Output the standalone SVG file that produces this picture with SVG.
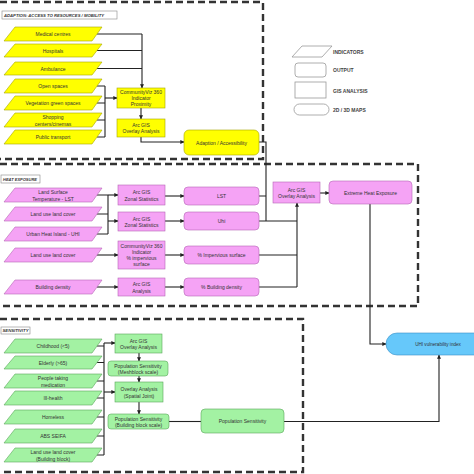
<svg xmlns="http://www.w3.org/2000/svg" width="474" height="474" viewBox="0 0 474 474">
<defs>
<marker id="ah" viewBox="0 0 6 6" refX="5.5" refY="3" markerWidth="4" markerHeight="4" orient="auto" markerUnits="userSpaceOnUse">
<path d="M0,0 L6,3 L0,6 z" fill="#222"/>
</marker>
<style>
text{font-family:"Liberation Sans",Arial,sans-serif;font-size:5px;fill:#333;text-anchor:middle;dominant-baseline:central}
.hd{font-style:italic;font-weight:bold;font-size:4.2px;text-anchor:start}
.lg{font-weight:bold;font-size:5px;text-anchor:start;fill:#444}
.y{fill:#ffff00;stroke:#a6a600;stroke-width:0.6}
.p{fill:#f5a3f5;stroke:#b566b5;stroke-width:0.6}
.g{fill:#a3f2a3;stroke:#5aa65a;stroke-width:0.6}
.b{fill:#66c8fa;stroke:#3a8ec6;stroke-width:0.6}
.lgs{fill:#fff;stroke:#999;stroke-width:0.8}
.hb{fill:#fff;stroke:#888;stroke-width:0.6}
.dash{fill:none;stroke:#333;stroke-width:2.4;stroke-dasharray:7,4}
.c{fill:none;stroke:#222;stroke-width:1.1}
.ca{fill:none;stroke:#222;stroke-width:1.1;marker-end:url(#ah)}
</style>
</defs>

<g id="borders">
<path class="dash" d="M0,2 H263 V159 H0"/>
<path class="dash" d="M0,164 H418 V306 H0"/>
<path class="dash" d="M0,319 H303 V472 H0"/>
</g>

<g id="legend">
<polygon class="lgs" points="292,57 302,46 332,46 322,57"/>
<text class="lg" x="333" y="52">INDICATORS</text>
<rect class="lgs" x="295" y="63" width="31" height="14" rx="3"/>
<text class="lg" x="333" y="70">OUTPUT</text>
<rect class="lgs" x="295" y="82" width="31" height="16"/>
<text class="lg" x="333" y="91">GIS ANALYSIS</text>
<rect class="lgs" x="294" y="104" width="35" height="11" rx="5.5"/>
<text class="lg" x="333" y="110">2D / 3D MAPS</text>
</g>

<g id="headers">
<rect class="hb" x="2" y="11" width="115" height="8"/>
<text class="hd" x="4" y="15.2" textLength="100" lengthAdjust="spacingAndGlyphs">ADAPTION: ACCESS TO RESOURCES / MOBILITY</text>
<rect class="hb" x="1" y="175" width="39" height="8"/>
<text class="hd" x="3" y="179.2" textLength="34" lengthAdjust="spacingAndGlyphs">HEAT EXPOSURE</text>
<rect class="hb" x="1" y="327" width="29" height="7"/>
<text class="hd" x="2.5" y="330.7" textLength="26" lengthAdjust="spacingAndGlyphs">SENSITIVITY</text>
</g>

<g id="connectors">
<!-- adaptation -->
<path class="c" d="M97,34 H142 M97,50.5 H142 M97,68.5 H142"/>
<path class="ca" d="M142,34 V88"/>
<path class="c" d="M97,86 H105 M97,103 H105 M97,120 H105 M97,137 H105 M105,86 V137"/>
<path class="ca" d="M105,98 H117"/>
<path class="ca" d="M141,108 V119"/>
<path class="ca" d="M141,137 V142 H184"/>
<path class="c" d="M259,142 H266 V221"/>
<!-- heat -->
<path class="c" d="M97,195 H108 M97,214 H108 M97,234 H108 M108,195 V234"/>
<path class="ca" d="M108,195 H118"/>
<path class="ca" d="M108,221 H118"/>
<path class="ca" d="M97,255 H118"/>
<path class="ca" d="M97,287 H118"/>
<path class="ca" d="M165,196 H184"/>
<path class="ca" d="M165,221 H184"/>
<path class="ca" d="M165,255 H184"/>
<path class="ca" d="M165,287 H184"/>
<path class="c" d="M259,196 H266 M259,221 H297 M259,255 H297 M259,287 H297"/>
<path class="ca" d="M297,287 V203"/>
<path class="ca" d="M320,193 H329"/>
<path class="ca" d="M370,204 V344 H386"/>
<!-- sensitivity -->
<path class="c" d="M97,346 H104 M97,362.5 H104 M97,381 H104 M97,398 H104 M97,417 H104 M97,436 H104 M97,455 H104 M104,343 V455"/>
<path class="ca" d="M104,343 H115"/>
<path class="ca" d="M104,392 H115"/>
<path class="ca" d="M139,353 V361"/>
<path class="ca" d="M139,376 V382"/>
<path class="ca" d="M139,402 V414"/>
<path class="c" d="M169,421.5 H201"/>
<path class="ca" d="M284,421.5 H439 V355"/>
</g>

<!-- Adaptation indicators -->
<g id="medical"><polygon class="y" points="4,41 15,27 102,27 92,41"/><text x="53" y="34">Medical centres</text></g>
<g id="hospitals"><polygon class="y" points="4,57 15,44 102,44 92,57"/><text x="53" y="50.5">Hospitals</text></g>
<g id="ambulance"><polygon class="y" points="4,75 15,62 102,62 92,75"/><text x="53" y="68.5">Ambulance</text></g>
<g id="openspaces"><polygon class="y" points="4,93 15,79 102,79 92,93"/><text x="53" y="86">Open spaces</text></g>
<g id="vegetation"><polygon class="y" points="4,110 15,96 102,96 92,110"/><text x="53" y="103">Vegetation green spaces</text></g>
<g id="shopping"><polygon class="y" points="4,127 15,113 102,113 92,127"/><text x="53" y="117">Shopping</text><text x="53" y="123.5">centers/cinemas</text></g>
<g id="transport"><polygon class="y" points="4,144 15,130 102,130 92,144"/><text x="53" y="137">Public transport</text></g>
<g id="communityviz-proximity"><rect class="y" x="117" y="88" width="48" height="20"/><text x="141" y="92">CommunityViz 360</text><text x="141" y="98">Indicator</text><text x="141" y="104">Proximity</text></g>
<g id="arcgis-overlay-adapt"><rect class="y" x="117" y="119" width="48" height="18"/><text x="141" y="125">Arc GIS</text><text x="141" y="131">Overlay Analysis</text></g>
<g id="adaption"><rect class="y" x="184" y="130" width="75" height="25" rx="5"/><text x="221.5" y="142.5">Adaption / Accessibility</text></g>

<!-- Heat indicators -->
<g id="lst-ind"><polygon class="p" points="4,202 15,188 102,188 92,202"/><text x="53" y="192">Land Surface</text><text x="53" y="198.5">Temperature - LST</text></g>
<g id="lulc1"><polygon class="p" points="4,221 15,207 102,207 92,221"/><text x="53" y="214">Land use land cover</text></g>
<g id="uhi-ind"><polygon class="p" points="4,241 15,227 102,227 92,241"/><text x="53" y="234">Urban Heat Island - UHI</text></g>
<g id="lulc2"><polygon class="p" points="4,262 15,248 102,248 92,262"/><text x="53" y="255">Land use land cover</text></g>
<g id="building-ind"><polygon class="p" points="4,294 15,280 102,280 92,294"/><text x="53" y="287">Building density</text></g>
<g id="zonal1"><rect class="p" x="118" y="185" width="47" height="20"/><text x="141.5" y="192">Arc GIS</text><text x="141.5" y="198.5">Zonal Statistics</text></g>
<g id="zonal2"><rect class="p" x="118" y="212" width="47" height="19"/><text x="141.5" y="218.5">Arc GIS</text><text x="141.5" y="225">Zonal Statistics</text></g>
<g id="communityviz-imperv"><rect class="p" x="118" y="241" width="47" height="28"/><text x="141.5" y="245.5">CommunityViz 360</text><text x="141.5" y="251.5">Indicator</text><text x="141.5" y="257.5">% impervious</text><text x="141.5" y="263.5">surface</text></g>
<g id="arcgis-analysis"><rect class="p" x="118" y="278" width="47" height="18"/><text x="141.5" y="284">Arc GIS</text><text x="141.5" y="290.5">Analysis</text></g>
<g id="lst-out"><rect class="p" x="184" y="187" width="75" height="18" rx="4"/><text x="221.5" y="196">LST</text></g>
<g id="uhi-out"><rect class="p" x="184" y="212" width="75" height="18" rx="4"/><text x="221.5" y="221">Uhi</text></g>
<g id="imperv-out"><rect class="p" x="184" y="246" width="75" height="18" rx="4"/><text x="221.5" y="255">% Impervious surface</text></g>
<g id="building-out"><rect class="p" x="184" y="278" width="75" height="18" rx="4"/><text x="221.5" y="287">% Building density</text></g>
<g id="arcgis-overlay-heat"><rect class="p" x="273" y="182" width="47" height="21"/><text x="296.5" y="189.5">Arc GIS</text><text x="296.5" y="196">Overlay Analysis</text></g>
<g id="extreme-heat"><rect class="p" x="329" y="181" width="83" height="23" rx="4"/><text x="370.5" y="192.5">Extreme Heat Exposure</text></g>

<!-- Sensitivity indicators -->
<g id="childhood"><polygon class="g" points="4,353 15,339 102,339 92,353"/><text x="53" y="346">Childhood (&lt;5)</text></g>
<g id="elderly"><polygon class="g" points="4,369 15,356 102,356 92,369"/><text x="53" y="362.5">Elderly (&gt;65)</text></g>
<g id="medication"><polygon class="g" points="4,388 15,374 102,374 92,388"/><text x="53" y="378">People taking</text><text x="53" y="384.5">medication</text></g>
<g id="illhealth"><polygon class="g" points="4,405 15,391 102,391 92,405"/><text x="53" y="398">Ill-health</text></g>
<g id="homeless"><polygon class="g" points="4,424 15,410 102,410 92,424"/><text x="53" y="417">Homeless</text></g>
<g id="seifa"><polygon class="g" points="4,443 15,429 102,429 92,443"/><text x="53" y="436">ABS SEIFA</text></g>
<g id="lulc-block"><polygon class="g" points="4,462 15,448 102,448 92,462"/><text x="53" y="452">Land use land cover</text><text x="53" y="458.5">(Building block)</text></g>
<g id="arcgis-overlay-sens"><rect class="g" x="115" y="334" width="47" height="19"/><text x="138.5" y="340.5">Arc GIS</text><text x="138.5" y="347">Overlay Analysis</text></g>
<g id="popsens-mesh"><rect class="g" x="108" y="361" width="60" height="15" rx="3"/><text x="138" y="365.5">Population Sensitivity</text><text x="138" y="371.5">(Meshblock scale)</text></g>
<g id="overlay-spatial"><rect class="g" x="115" y="382" width="48" height="20"/><text x="139" y="389">Overlay Analysis</text><text x="139" y="395.5">(Spatial Joint)</text></g>
<g id="popsens-block"><rect class="g" x="108" y="414" width="61" height="15" rx="3"/><text x="138.5" y="418.5">Population Sensitivity</text><text x="138.5" y="424.5">(Building block scale)</text></g>
<g id="popsens"><rect class="g" x="201" y="409" width="83" height="24" rx="4"/><text x="242.5" y="421">Population Sensitivity</text></g>

<g id="uhi-index"><rect class="b" x="386" y="333" width="100" height="22" rx="11"/><text x="438" y="344" style="font-size:4.6px">UHI vulnerability index</text></g>
</svg>
